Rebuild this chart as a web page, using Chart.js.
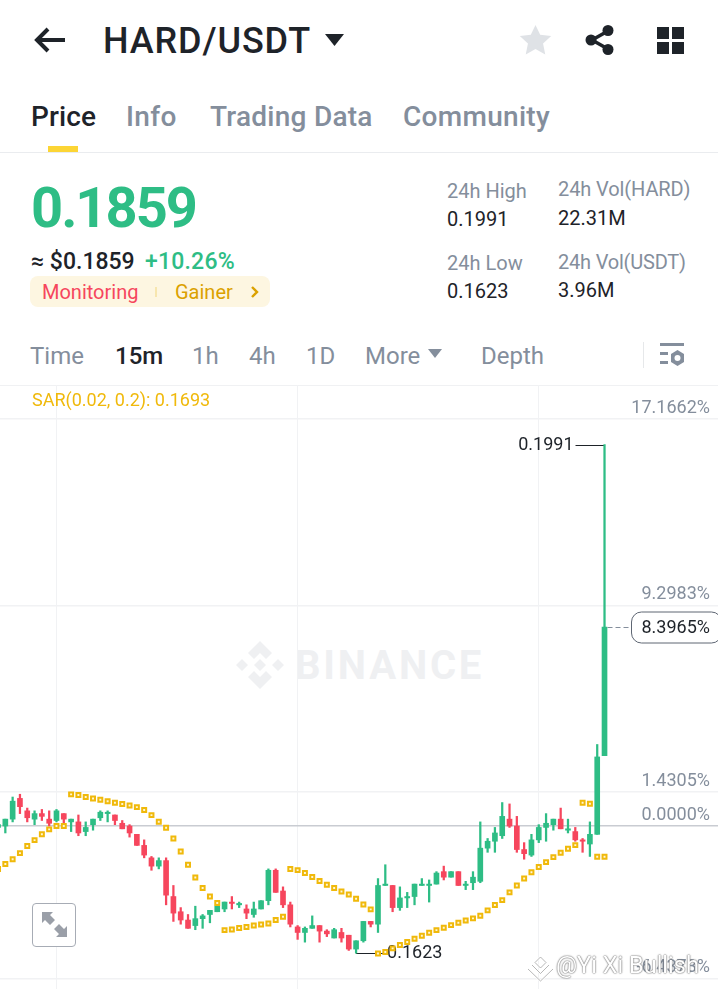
<!DOCTYPE html>
<html>
<head>
<meta charset="utf-8">
<script src="https://cdn.jsdelivr.net/npm/chart.js@4"></script>
<style>
  html, body { margin: 0; padding: 0; background: #fff; }
  body { position: relative; width: 718px; height: 989px; overflow: hidden; font-family: Roboto, sans-serif; color: #1e2329; }
  .t { position: absolute; white-space: nowrap; line-height: 1; transform: translateY(-50%); }
  .gray { color: #848e9c; }
  .mid { font-weight: 500; }
  .green { color: #2ebd85; }
  svg, .box { position: absolute; }
  #wrap { position: absolute; left: 0; top: 385px; width: 718px; height: 604px; }
  #chart { position: absolute; left: 0; top: 0; }
</style>
</head>
<body>
<svg style="left:33px;top:26px" width="34" height="28" viewBox="0 0 34 28"><path d="M15 3 L4 14 L15 25 M4 14 H32" fill="none" stroke="#1e2329" stroke-width="4"/></svg>
<div class="t mid" style="left:103px;top:41px;font-size:36px;letter-spacing:.9px">HARD/USDT</div>
<svg style="left:325px;top:33px" width="20" height="14"><path d="M0 1 H19 L9.5 13 Z" fill="#1e2329"/></svg>
<svg style="left:519px;top:24px" width="33" height="32" viewBox="0 0 24 23"><path d="M12 0.5 L15.4 7.6 L23.4 8.6 L17.5 14 L19.1 22 L12 18 L4.9 22 L6.5 14 L0.6 8.6 L8.6 7.6 Z" fill="#dfe2e6"/></svg>
<svg style="left:584px;top:24px" width="32" height="32" viewBox="0 0 32 32"><path d="M24 7 L8 16 L24 25" fill="none" stroke="#1e2329" stroke-width="3.5"/><circle cx="24" cy="6.5" r="5.5" fill="#1e2329"/><circle cx="7" cy="16" r="5.5" fill="#1e2329"/><circle cx="24" cy="25.5" r="5.5" fill="#1e2329"/></svg>
<svg style="left:657px;top:27px" width="27" height="27"><path d="M0 0 H12 V12 H0 Z M15 0 H27 V12 H15 Z M0 15 H12 V27 H0 Z M15 15 H27 V27 H15 Z" fill="#1e2329"/></svg>

<div class="t mid" style="left:31px;top:117px;font-size:28px;letter-spacing:.1px">Price</div>
<div class="t mid gray" style="left:126px;top:117px;font-size:28px;letter-spacing:.4px">Info</div>
<div class="t mid gray" style="left:210px;top:117px;font-size:28px;letter-spacing:.25px">Trading Data</div>
<div class="t mid gray" style="left:403px;top:117px;font-size:28px;letter-spacing:.3px">Community</div>
<div class="box" style="left:48px;top:146px;width:30px;height:6px;background:#fcd535"></div>
<div class="box" style="left:0;top:152px;width:718px;height:1px;background:#eaecef"></div>

<div class="t green" style="left:31px;top:208px;font-size:56px;font-weight:700;letter-spacing:-2px">0.1859</div>
<div class="t mid" style="left:31px;top:261px;font-size:23px">≈ $0.1859</div>
<div class="t mid green" style="left:145px;top:261px;font-size:23px;letter-spacing:.2px">+10.26%</div>
<div class="box" style="left:30px;top:276px;width:240px;height:31px;border-radius:8px;background:#fdf6e1"></div>
<div class="t" style="left:42px;top:292px;font-size:20px;color:#f6465d">Monitoring</div>
<div class="box" style="left:155px;top:287px;width:2px;height:10px;background:#f7e6ae"></div>
<div class="t" style="left:175px;top:292px;font-size:20px;color:#dba100">Gainer</div>
<svg style="left:250px;top:286px" width="9" height="12"><path d="M2 1 L7 6 L2 11" fill="none" stroke="#dba100" stroke-width="2.4"/></svg>

<div class="t gray" style="left:447px;top:191px;font-size:20px">24h High</div>
<div class="t" style="left:447px;top:219px;font-size:20px">0.1991</div>
<div class="t gray" style="left:558px;top:189px;font-size:20px;letter-spacing:-.1px">24h Vol(HARD)</div>
<div class="t" style="left:558px;top:218px;font-size:20px">22.31M</div>
<div class="t gray" style="left:447px;top:263px;font-size:20px">24h Low</div>
<div class="t" style="left:447px;top:291px;font-size:20px">0.1623</div>
<div class="t gray" style="left:558px;top:262px;font-size:20px;letter-spacing:-.2px">24h Vol(USDT)</div>
<div class="t" style="left:558px;top:290px;font-size:20px">3.96M</div>

<div class="t gray" style="left:30px;top:356px;font-size:24px">Time</div>
<div class="t mid" style="left:115px;top:356px;font-size:24px">15m</div>
<div class="t gray" style="left:192px;top:356px;font-size:24px">1h</div>
<div class="t gray" style="left:249px;top:356px;font-size:24px">4h</div>
<div class="t gray" style="left:306px;top:356px;font-size:24px">1D</div>
<div class="t gray" style="left:365px;top:356px;font-size:24px">More</div>
<svg style="left:428px;top:349px" width="14" height="10"><path d="M0 0 H14 L7 9 Z" fill="#848e9c"/></svg>
<div class="t gray" style="left:481px;top:356px;font-size:24px">Depth</div>
<div class="box" style="left:643px;top:342px;width:1px;height:26px;background:#e6e8ea"></div>
<svg style="left:660px;top:343px" width="25" height="25"><path d="M0 0 H24 V3 H0 Z M0 9 H8 V12 H0 Z M0 18 H8 V21 H0 Z" fill="#848e9c"/><path d="M17.5 7 L24 11 V19 L17.5 23 L11 19 V11 Z" fill="#848e9c"/><circle cx="17.5" cy="15" r="3" fill="#fff"/></svg>
<div class="box" style="left:0;top:385px;width:718px;height:1px;background:#f0f1f3"></div>

<div id="wrap">
  <svg style="left:235px;top:255px" width="50" height="50" viewBox="0 0 50 50"><path d="M25 1 L37 13 L31 19 L25 13 L19 19 L13 13 Z M7 19 L13 25 L7 31 L1 25 Z M43 19 L49 25 L43 31 L37 25 Z M25 19 L31 25 L25 31 L19 25 Z M13 37 L19 31 L25 37 L31 31 L37 37 L25 49 Z" fill="#eff0f2"/></svg>
  <div class="t" style="left:295px;top:281px;font-size:40px;font-weight:700;color:#eff0f2;letter-spacing:2.8px">BINANCE</div>
  <canvas id="chart" width="718" height="604"></canvas>
  <div class="t" style="left:32px;top:15px;font-size:18px;color:#f0b90b">SAR(0.02, 0.2): 0.1693</div>
</div>

<div class="box" style="left:32px;top:903px;width:42px;height:42px;border:1.5px solid #a7acb5;border-radius:4px;background:#fff"></div>
<svg style="left:41px;top:911px" width="27" height="27"><path d="M1 1 H12 L9 4 L14 9 L9 14 L4 9 L1 12 Z M26 26 H15 L18 23 L13 18 L18 13 L23 18 L26 15 Z" fill="#9a9fa8"/></svg>

<svg style="left:527px;top:955px" width="27" height="27" viewBox="0 0 27 27"><path d="M13.5 2 L19 7.5 L13.5 13 L8 7.5 Z M5 10 L13.5 18.5 L22 10 M1 14 L13.5 26 L26 14" fill="none" stroke="#fff" stroke-width="2"/><path d="M13.5 2 L19 7.5 L13.5 13 L8 7.5 Z M5 10 L13.5 18.5 L22 10 M1 14 L13.5 26 L26 14" fill="none" stroke="#9a9a9a" stroke-width=".7"/></svg>
<div class="t" style="left:556px;top:966px;font-size:23.5px;color:#fff;text-shadow:0 0 1.5px #666,0 0 1.5px #666">@Yi Xi Bullish</div>

<script>
// candles, oldest first, first one is cut by the left edge
var opens = [0.1714,0.1715,0.1720,0.1735,0.1726,0.1720,0.1724,0.1720,0.1719,0.1724,0.1718,0.1718,0.1711,0.1716,0.1721,0.1724,0.1723,0.1717,0.1715,0.1709,0.1701,0.1692,0.1686,0.1690,0.1664,0.1653,0.1647,0.1643,0.1648,0.1651,0.1653,0.1655,0.1660,0.1658,0.1655,0.1651,0.1655,0.1661,0.1683,0.1668,0.1658,0.1642,0.1638,0.1641,0.1643,0.1639,0.1634,0.1638,0.1636,0.1626,0.1632,0.1646,0.1644,0.1672,0.1672,0.1656,0.1663,0.1664,0.1672,0.1672,0.1673,0.1682,0.1678,0.1682,0.1672,0.1674,0.1675,0.1699,0.1704,0.1708,0.1720,0.1715,0.1698,0.1694,0.1705,0.1714,0.1716,0.1720,0.1712,0.1711,0.1705,0.1702,0.1709,0.1766];
var closes = [0.1716,0.1720,0.1733,0.1729,0.1721,0.1724,0.1722,0.1717,0.1726,0.1720,0.1720,0.1710,0.1714,0.1720,0.1725,0.1725,0.1719,0.1713,0.1710,0.1701,0.1694,0.1686,0.1690,0.1665,0.1652,0.1647,0.1641,0.1648,0.1650,0.1654,0.1657,0.1660,0.1659,0.1659,0.1652,0.1655,0.1661,0.1683,0.1667,0.1658,0.1644,0.1638,0.1641,0.1643,0.1639,0.1637,0.1640,0.1634,0.1626,0.1632,0.1646,0.1644,0.1672,0.1673,0.1656,0.1663,0.1664,0.1673,0.1673,0.1673,0.1681,0.1678,0.1682,0.1672,0.1673,0.1678,0.1699,0.1704,0.1710,0.1722,0.1715,0.1698,0.1695,0.1705,0.1714,0.1717,0.1720,0.1713,0.1713,0.1705,0.1704,0.1709,0.1765,0.1859];
var highs = [0.1718,0.1720,0.1736,0.1738,0.1728,0.1726,0.1727,0.1726,0.1727,0.1724,0.1720,0.1723,0.1718,0.1720,0.1726,0.1726,0.1723,0.1719,0.1716,0.1709,0.1705,0.1693,0.1692,0.1692,0.1672,0.1656,0.1651,0.1657,0.1651,0.1654,0.1657,0.1660,0.1664,0.1660,0.1658,0.1660,0.1661,0.1684,0.1684,0.1671,0.1660,0.1643,0.1642,0.1650,0.1643,0.1640,0.1641,0.1641,0.1636,0.1632,0.1646,0.1646,0.1677,0.1687,0.1672,0.1671,0.1667,0.1673,0.1677,0.1676,0.1682,0.1686,0.1682,0.1682,0.1675,0.1682,0.1718,0.1706,0.1714,0.1732,0.1731,0.1722,0.1703,0.1709,0.1716,0.1724,0.1720,0.1728,0.1720,0.1714,0.1706,0.1718,0.1774,0.1991];
var lows = [0.1713,0.1710,0.1718,0.1724,0.1718,0.1716,0.1719,0.1715,0.1718,0.1717,0.1711,0.1708,0.1708,0.1712,0.1719,0.1718,0.1716,0.1713,0.1707,0.1701,0.1692,0.1683,0.1684,0.1658,0.1646,0.1644,0.1641,0.1640,0.1641,0.1645,0.1653,0.1653,0.1655,0.1656,0.1648,0.1649,0.1655,0.1658,0.1667,0.1656,0.1642,0.1633,0.1631,0.1641,0.1631,0.1635,0.1634,0.1631,0.1625,0.1623,0.1631,0.1642,0.1638,0.1672,0.1653,0.1654,0.1656,0.1658,0.1672,0.1660,0.1673,0.1676,0.1678,0.1672,0.1669,0.1669,0.1674,0.1696,0.1696,0.1706,0.1714,0.1696,0.1691,0.1693,0.1703,0.1704,0.1712,0.1713,0.1710,0.1704,0.1696,0.1693,0.1709,0.1766];
var sar = [0.16839,0.16875,0.16909,0.16954,0.17005,0.17048,0.17090,0.17126,0.17150,0.17150,0.17379,0.17374,0.17360,0.17350,0.17340,0.17330,0.17319,0.17309,0.17299,0.17287,0.17266,0.17229,0.17181,0.17138,0.17060,0.16966,0.16870,0.16778,0.16701,0.16641,0.16593,0.16397,0.16402,0.16412,0.16419,0.16431,0.16438,0.16445,0.16470,0.16494,0.16839,0.16831,0.16810,0.16781,0.16752,0.16725,0.16701,0.16677,0.16655,0.16624,0.16583,0.16547,0.16228,0.16238,0.16265,0.16289,0.16311,0.16335,0.16356,0.16378,0.16397,0.16414,0.16433,0.16450,0.16467,0.16482,0.16501,0.16540,0.16578,0.16614,0.16670,0.16720,0.16771,0.16815,0.16853,0.16889,0.16925,0.16957,0.16986,0.17012,0.17319,0.17311,0.16928,0.16928];

var basePrice = 0.1715;
var tickPercents = [17.1662, 9.2983, 1.4305, 0, -6.4373];
var tickLabels = ['17.1662%', '9.2983%', '1.4305%', '0.0000%', '-6.4373%'];
var dayTicks = [7, 40, 73];
var lastPercent = '8.3965%';

var green = '#2ebd85';
var red = '#f6465d';
var colors = opens.map(function (o, i) { return closes[i] >= o ? green : red; });

var wickData = opens.map(function (o, i) { return { x: i - 1, y: [lows[i], highs[i]] }; });
var bodyData = opens.map(function (o, i) { return { x: i - 1, y: [o, closes[i]] }; });
var sarData = sar.map(function (v, i) { return { x: i - 1, y: v }; });

// axes sit inside the plot, so they get no room of their own
function noAxisRoom(axis) {
  axis.paddingTop = axis.paddingBottom = axis.paddingLeft = axis.paddingRight = 0;
  if (axis.isHorizontal()) axis.height = 0; else axis.width = 0;
}

var notes = {
  id: 'notes',
  beforeDatasetsDraw: function (chart) {
    var ctx = chart.ctx, x = chart.scales.x, y = chart.scales.y;
    var hi = highs.indexOf(Math.max.apply(null, highs));
    var lo = lows.indexOf(Math.min.apply(null, lows));
    var last = closes[closes.length - 1];
    ctx.save();
    ctx.font = '18px Roboto, sans-serif';
    ctx.textBaseline = 'middle';
    ctx.fillStyle = ctx.strokeStyle = '#1e2329';
    ctx.lineWidth = 1;

    var hx = x.getPixelForValue(hi - 1), hy = Math.round(y.getPixelForValue(highs[hi])) + 0.5;
    ctx.beginPath(); ctx.moveTo(hx - 29, hy); ctx.lineTo(hx, hy); ctx.stroke();
    ctx.textAlign = 'right';
    ctx.fillText(highs[hi].toFixed(4), hx - 31, hy);

    var lx = x.getPixelForValue(lo - 1), ly = Math.round(y.getPixelForValue(lows[lo])) + 0.5;
    ctx.beginPath(); ctx.moveTo(lx, ly); ctx.lineTo(lx + 29, ly); ctx.stroke();
    ctx.textAlign = 'left';
    ctx.fillText(lows[lo].toFixed(4), lx + 31, ly);

    // last price marker
    var py = Math.round(y.getPixelForValue(last)) + 0.5;
    ctx.strokeStyle = '#848e9c';
    ctx.setLineDash([5, 3]);
    ctx.beginPath(); ctx.moveTo(hx + 3, py); ctx.lineTo(632, py); ctx.stroke();
    ctx.setLineDash([]);
    ctx.strokeStyle = '#5e6673';
    ctx.fillStyle = '#fff';
    ctx.beginPath(); ctx.roundRect(631.5, py - 15.5, 90, 31, 10); ctx.fill(); ctx.stroke();
    ctx.fillStyle = '#1e2329';
    ctx.textAlign = 'right';
    ctx.fillText(lastPercent, 710, py + 0.5);
    ctx.restore();
  }
};

var chart = new Chart(document.getElementById('chart').getContext('2d'), {
  type: 'bar',
  data: {
    datasets: [
      {
        type: 'line',
        data: sarData,
        showLine: false,
        pointStyle: 'rect',
        pointRadius: 2.8,
        pointBorderWidth: 2,
        pointBorderColor: '#f0b90b',
        pointBackgroundColor: '#fff6d6',
        order: 0,
      },
      {
        data: bodyData,
        backgroundColor: colors,
        barThickness: 5,
        grouped: false,
        order: 1,
      },
      {
        data: wickData,
        backgroundColor: colors,
        barThickness: 1.6,
        grouped: false,
        order: 2,
      }
    ],
  },
  options: {
    responsive: false,
    animation: false,
    events: [],
    layout: { padding: 0, autoPadding: false },
    plugins: {
      legend: { display: false },
      tooltip: { enabled: false },
    },
    scales: {
      x: {
        type: 'linear',
        offset: false,
        min: -0.73,
        max: 97.53,
        afterBuildTicks: function (axis) {
          axis.ticks = dayTicks.map(function (v) { return { value: v }; });
        },
        afterFit: noAxisRoom,
        grid: { color: '#f1f2f4', drawTicks: false, offset: false },
        border: { display: false },
        ticks: { display: false },
      },
      y: {
        position: 'right',
        min: 0.15971,
        max: 0.20341,
        afterBuildTicks: function (axis) {
          axis.ticks = tickPercents.map(function (p) { return { value: basePrice * (1 + p / 100) }; });
        },
        afterFit: noAxisRoom,
        grid: {
          drawTicks: false,
          color: function (c) { return c.index === 3 ? '#c9ccd2' : '#f1f2f4'; },
          lineWidth: 1.5,
        },
        border: { display: false },
        ticks: {
          mirror: true,
          autoSkip: false,
          padding: -8,
          labelOffset: -11,
          color: '#848e9c',
          font: { family: 'Roboto, sans-serif', size: 18 },
          callback: function (v, i) { return tickLabels[i]; },
        },
      }
    },
  },
  plugins: [notes],
});
</script>
</body>
</html>
